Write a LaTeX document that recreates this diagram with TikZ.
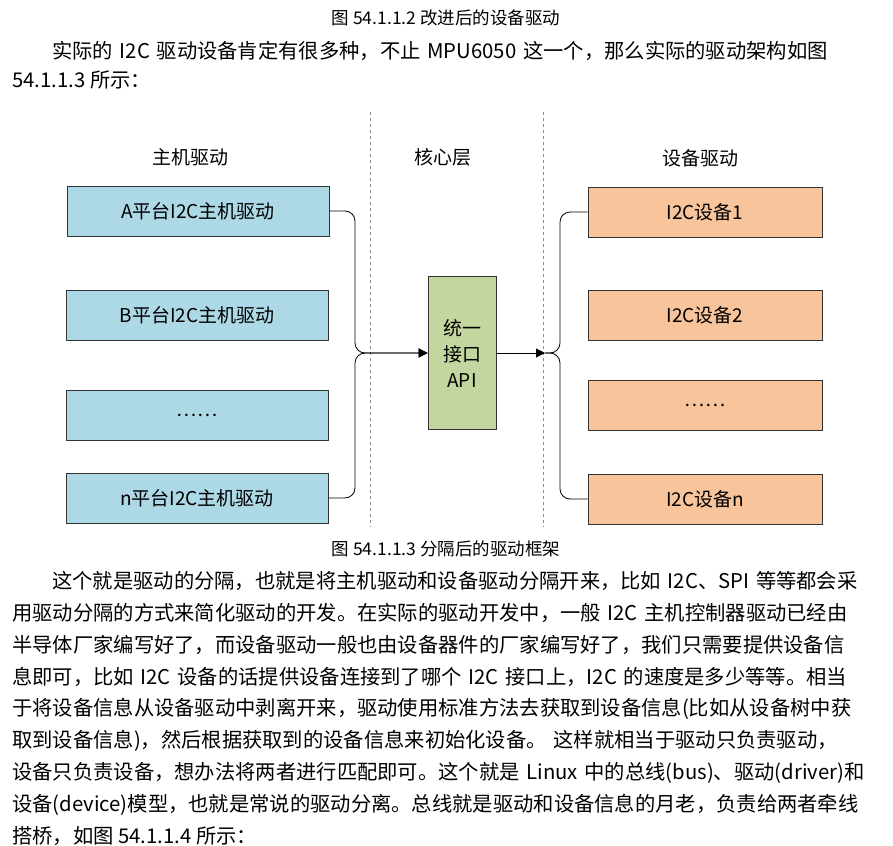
\documentclass[tikz,border=0pt]{standalone}
\usepackage{fontspec}
\setmainfont{Noto Sans CJK SC}
\usetikzlibrary{arrows.meta}
\XeTeXlinebreaklocale "zh"
\XeTeXlinebreakskip=0pt plus 4pt minus 0.5pt
\definecolor{bluef}{RGB}{173,216,230}
\definecolor{orgf}{RGB}{248,196,156}
\definecolor{grnf}{RGB}{196,214,160}
\tikzset{
 blk/.style={draw=black!80,line width=0.8pt,minimum width=262pt,minimum height=50pt,font=\fontsize{19}{19}\selectfont},
 dev/.style={blk,minimum width=234pt},
 api/.style={draw=black!80,line width=0.8pt,fill=grnf,minimum width=68pt,minimum height=153pt,align=center,font=\fontsize{19}{26}\selectfont},
 hdr/.style={font=\fontsize{19}{19}\selectfont},
 sep/.style={draw=black!45,dashed,line width=0.6pt},
 con/.style={draw=black,line width=0.8pt,rounded corners=10pt},
 txt/.style={anchor=west,inner sep=0pt,font=\fontsize{20.3}{22}\selectfont},
 capt/.style={inner sep=0pt,font=\fontsize{17.5}{19}\selectfont}
}
\begin{document}
\begin{tikzpicture}[x=1pt,y=-1pt]
\useasboundingbox (0,0) rectangle (893,845);
\fill[white] (0,0) rectangle (893,845);
\node[capt] (c1) at (446,18) {图 54.1.1.2 改进后的设备驱动};
\node[txt,text width=823pt] (t1) at (52,51) {\parfillskip=0pt 实际的 I2C 驱动设备肯定有很多种，不止 MPU6050 这一个，那么实际的驱动架构如图};
\node[txt] (t2) at (12,80) {54.1.1.3 所示：};
% diagram
\draw[sep] (370,112) -- (370,527);
\draw[sep] (543,112) -- (543,527);
\node[hdr] (h1) at (190,157) {主机驱动};
\node[hdr] (h2) at (443,157) {核心层};
\node[hdr] (h3) at (700,158) {设备驱动};
\node[blk,fill=bluef] (a) at (198,211) {A平台I2C主机驱动};
\node[blk,fill=bluef] (b) at (197,315) {B平台I2C主机驱动};
\node[blk,fill=bluef] (d) at (197,415) {……};
\node[blk,fill=bluef] (n) at (197,498) {n平台I2C主机驱动};
\node[api] (api) at (462,353) {统一\\接口\\API};
\node[dev,fill=orgf] (d1) at (705,212) {I2C设备1};
\node[dev,fill=orgf] (d2) at (705,315) {I2C设备2};
\node[dev,fill=orgf] (d3) at (705,405) {……};
\node[dev,fill=orgf] (dn) at (705,499) {I2C设备n};
\coordinate (ml) at (355,353);
\coordinate (mr) at (545,353);
\draw[con,-{Triangle[length=9pt,width=9pt]}] (a.east) -| (ml) -- (api.west);
\draw[con,-{Triangle[length=9pt,width=9pt]}] (n.east) -| (ml) -- (api.west);
\draw[con,-{Triangle[length=9pt,width=9pt]}] (api.east) -- (mr);
\draw[con] (mr) -- (560,353) |- (d1.west);
\draw[con] (mr) -- (560,353) |- (dn.west);
\node[capt] (c2) at (446,549) {图 54.1.1.3 分隔后的驱动框架};
% paragraph
\node[txt,text width=823pt] (p1) at (52,581) {\parfillskip=0pt 这个就是驱动的分隔，也就是将主机驱动和设备驱动分隔开来，比如 I2C、SPI 等等都会采};
\node[txt,text width=863pt] (p2) at (12,613) {\parfillskip=0pt 用驱动分隔的方式来简化驱动的开发。在实际的驱动开发中，一般 I2C 主机控制器驱动已经由};
\node[txt,text width=863pt] (p3) at (12,645) {\parfillskip=0pt 半导体厂家编写好了，而设备驱动一般也由设备器件的厂家编写好了，我们只需要提供设备信};
\node[txt,text width=863pt] (p4) at (12,677) {\parfillskip=0pt 息即可，比如 I2C 设备的话提供设备连接到了哪个 I2C 接口上，I2C 的速度是多少等等。相当};
\node[txt,text width=863pt] (p5) at (12,709) {\parfillskip=0pt 于将设备信息从设备驱动中剥离开来，驱动使用标准方法去获取到设备信息(比如从设备树中获};
\node[txt,text width=863pt] (p6) at (12,741) {\parfillskip=0pt 取到设备信息)，然后根据获取到的设备信息来初始化设备。 这样就相当于驱动只负责驱动，};
\node[txt,text width=863pt] (p7) at (12,773) {\parfillskip=0pt 设备只负责设备，想办法将两者进行匹配即可。这个就是 Linux 中的总线(bus)、驱动(driver)和};
\node[txt,text width=863pt] (p8) at (12,805) {\parfillskip=0pt 设备(device)模型，也就是常说的驱动分离。总线就是驱动和设备信息的月老，负责给两者牵线};
\node[txt] (p9) at (12,836) {搭桥，如图 54.1.1.4 所示：};
\end{tikzpicture}
\end{document}
